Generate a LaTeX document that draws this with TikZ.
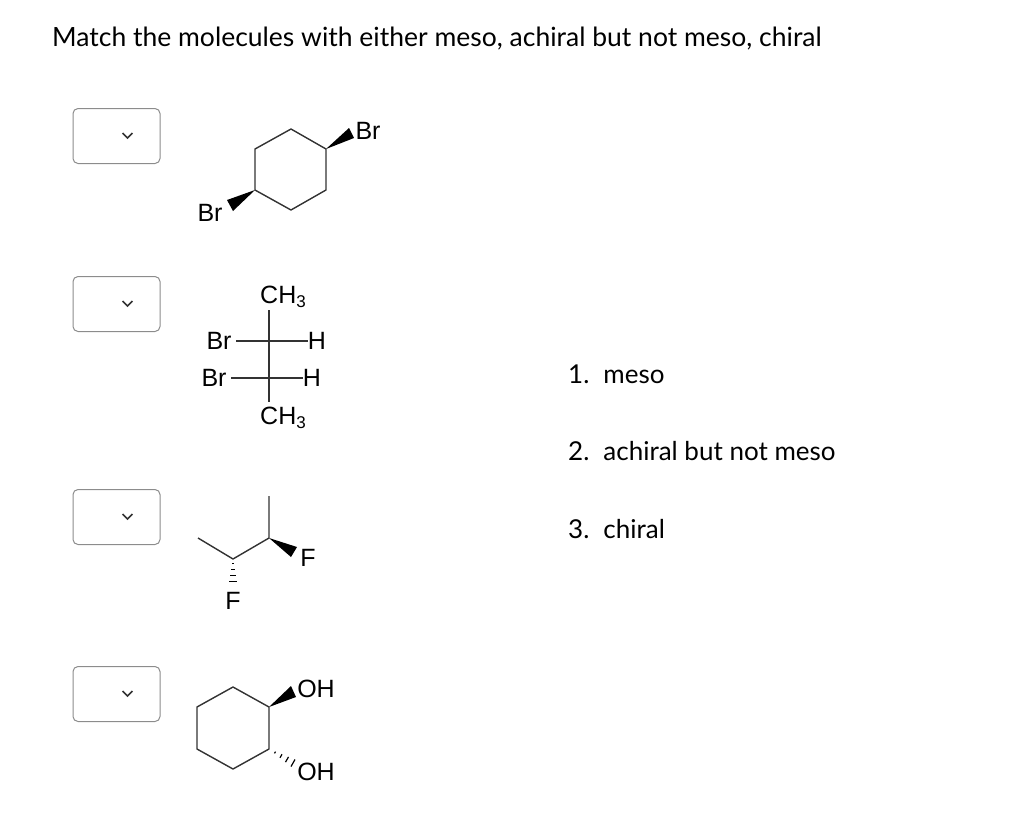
\documentclass[tikz,border=0pt]{standalone}
\usepackage{fontspec}
\usetikzlibrary{calc}
\setmainfont{Lato}
\newfontfamily\chem{Liberation Sans}
\newcommand{\sbt}[1]{\raisebox{-0.3ex}{\fontsize{17}{17}\selectfont #1}}
\begin{document}
\begin{tikzpicture}[x=1pt,y=-1pt,
  bond/.style={line width=1.4pt,color=black!80,line join=round},
  lab/.style={font=\chem\fontsize{25}{25}\selectfont,inner sep=0pt},
  selbox/.style={draw=black!45,line width=1pt,rounded corners=5pt,minimum width=87pt,minimum height=55pt},
  chev/.style={line width=1.6pt,color=black!80},
  opt/.style={font=\fontsize{26}{26}\selectfont,anchor=west,inner sep=0pt}]
\useasboundingbox (0,0) rectangle (1024,839);
\node[anchor=west,font=\fontsize{26.5}{26.5}\selectfont,inner sep=0pt] (title) at (52,39) {Match the molecules with either meso, achiral but not meso, chiral};
% boxes
\foreach \n/\y in {b1/136,b2/304,b3/517,b4/694}{
  \node[selbox] (\n) at (116.5,\y) {};
  \draw[chev] ($(\n.center)+(6,-3)$) -- ($(\n.center)+(11,2)$) -- ($(\n.center)+(16,-3)$);
}
% molecule 1
\coordinate (a1) at (291,129); \coordinate (a2) at (326,149); \coordinate (a3) at (326,190);
\coordinate (a4) at (291,210); \coordinate (a5) at (255,190); \coordinate (a6) at (255,149);
\draw[bond] (a1)--(a2)--(a3)--(a4)--(a5)--(a6)--cycle;
\node[lab] (br1) at (368,131) {Br};
\node[lab] (br2) at (210,213) {Br};
\fill (a2) -- (349,128) -- (354,138) -- cycle;
\fill (a5) -- (227,200) -- (233,211) -- cycle;
% Fischer
\coordinate (ft) at (269,310); \coordinate (fb) at (269,402);
\draw[bond] (ft)--(fb);
\draw[bond] (236,341)--(308,341);
\draw[bond] (231,378)--(303,378);
\node[lab] (c1) at (283,297) {CH\sbt{3}};
\node[lab] (c2) at (283,418) {CH\sbt{3}};
\node[lab] (b1l) at (219,341) {Br};
\node[lab] (h1) at (317,341) {H};
\node[lab] (b2l) at (214,378) {Br};
\node[lab] (h2) at (312,378) {H};
% molecule 3
\coordinate (m1) at (198,538); \coordinate (m2) at (233,559); \coordinate (m3) at (269,538); \coordinate (m4) at (269,496);
\draw[bond] (m1)--(m2)--(m3)--(m4);
\fill (m3) -- (291,557) -- (297,547) -- cycle;
\node[lab] (f1) at (308,558) {F};
\foreach \t in {0.2,0.45,0.7,0.95}{
  \draw[line width=1.2pt] ($(m2)+(-4*\t,24*\t)$) -- ($(m2)+(4*\t,24*\t)$);
}
\node[lab] (f2) at (233,601) {F};
% molecule 4
\coordinate (r1) at (233,687); \coordinate (r2) at (269,707); \coordinate (r3) at (269,749);
\coordinate (r4) at (233,769); \coordinate (r5) at (197,749); \coordinate (r6) at (197,707);
\draw[bond] (r1)--(r2)--(r3)--(r4)--(r5)--(r6)--cycle;
\fill (r2) -- (291,686) -- (296,697) -- cycle;
\node[lab] (oh1) at (316,689) {OH};
\foreach \t in {0.25,0.5,0.75,1.0}{
  \draw[line width=1.2pt] ($(r3)+(24*\t,14*\t)+(2*\t,-3.5*\t)$) -- ($(r3)+(24*\t,14*\t)+(-2*\t,3.5*\t)$);
}
\node[lab] (oh2) at (316,772) {OH};
% options
\node[opt] (o1) at (568,374) {1.\hspace{14pt}meso};
\node[opt] (o2) at (568,451) {2.\hspace{14pt}achiral but not meso};
\node[opt] (o3) at (568,529) {3.\hspace{14pt}chiral};
\end{tikzpicture}
\end{document}
